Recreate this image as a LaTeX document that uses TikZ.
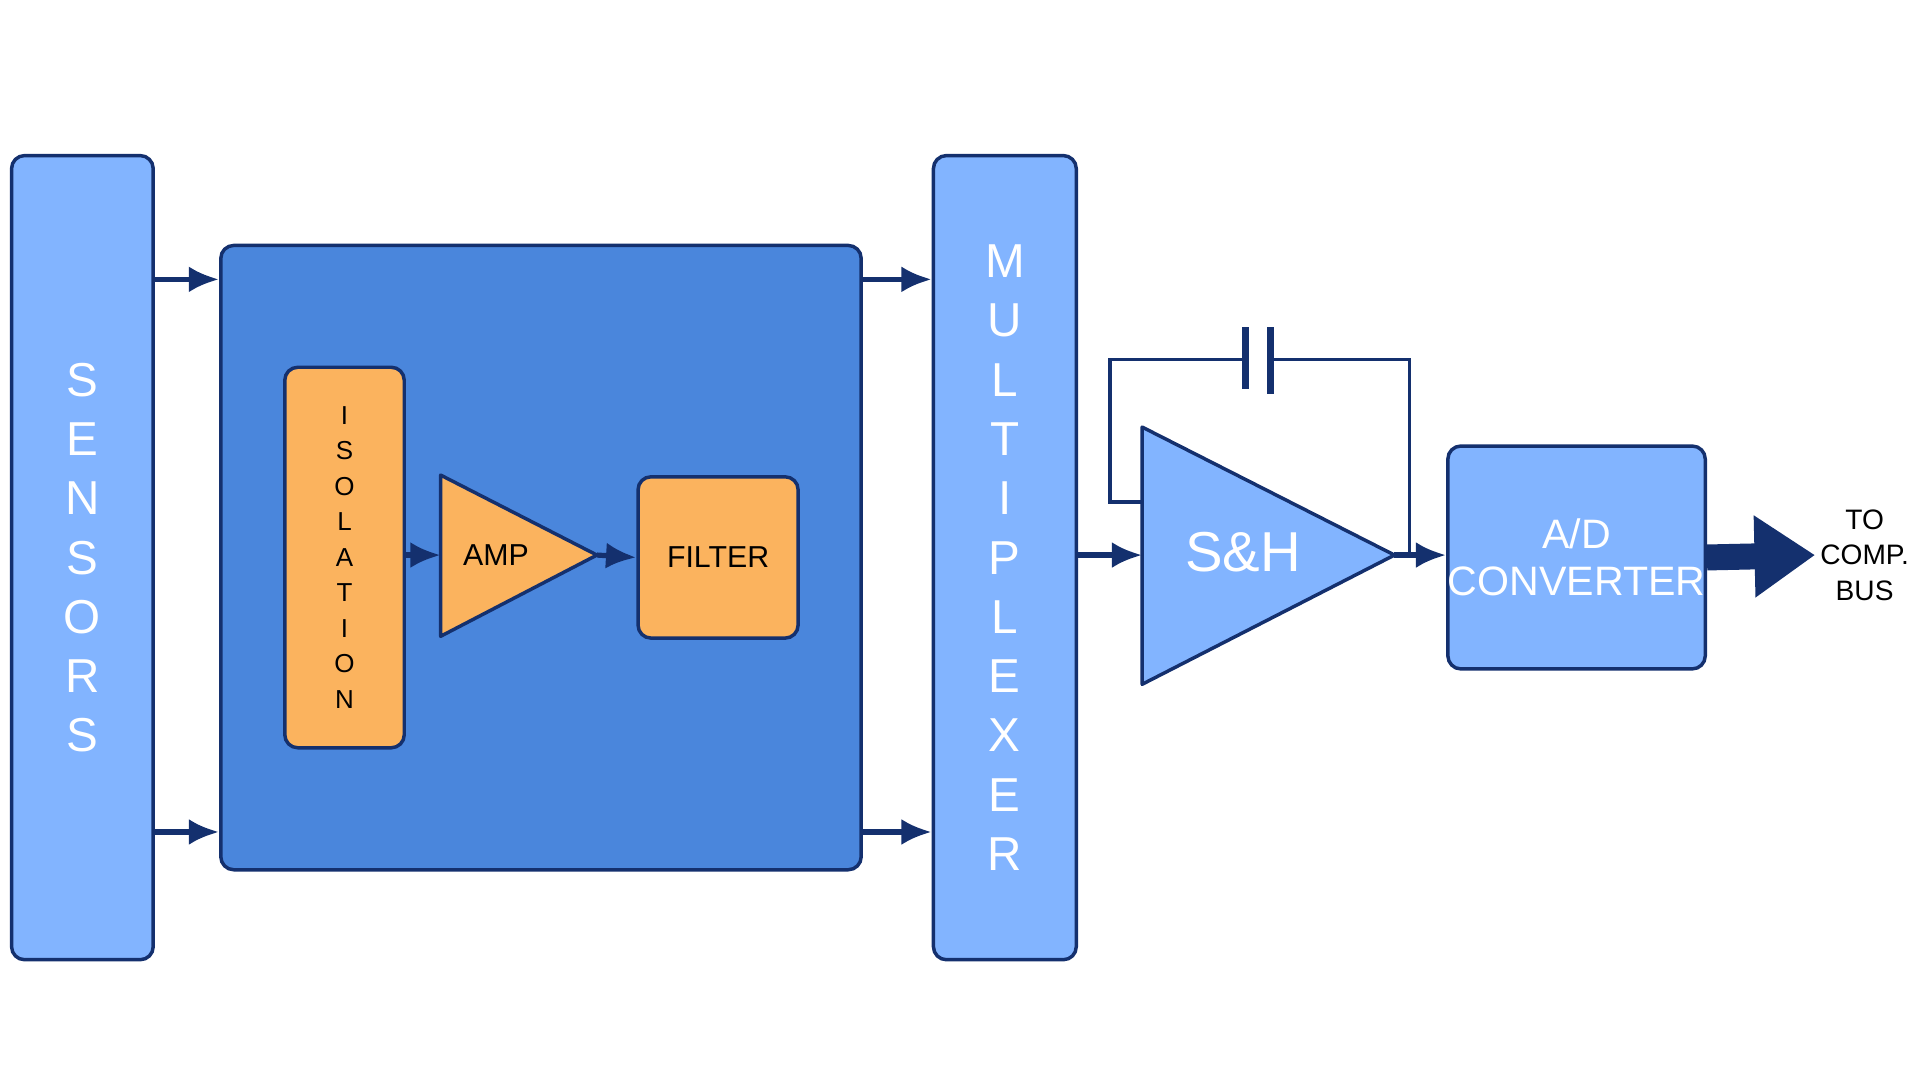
\documentclass[tikz,border=0pt]{standalone}
\usepackage{fontspec}
\setmainfont{Liberation Sans}
\usetikzlibrary{arrows.meta,positioning}
\definecolor{lblue}{HTML}{82B4FF}
\definecolor{mblue}{HTML}{4A86DC}
\definecolor{orng}{HTML}{FBB35E}
\definecolor{navy}{HTML}{14306E}
\tikzstyle{block}=[draw=navy,thick,rounded corners=3pt,inner sep=0pt]
\tikzstyle{flow}=[draw=navy,very thick,-{Latex[length=7pt,width=6pt]}]
\begin{document}
\begin{tikzpicture}[x=0.01cm,y=-0.01cm]
\useasboundingbox (0,0) rectangle (1560,877);
% outer blocks
\node[block,fill=lblue,minimum width=1.15cm,minimum height=6.53cm,anchor=north west] (sens) at (8,125) {};
\node[text=white,align=center,font=\fontsize{11}{13.7}\selectfont] at (sens) {S\\E\\N\\S\\O\\R\\S};
\node[block,fill=mblue,minimum width=5.2cm,minimum height=5.07cm,anchor=north west] (proc) at (178,198) {};
\node[block,fill=lblue,minimum width=1.16cm,minimum height=6.53cm,anchor=north west] (mux) at (757,125) {};
\node[text=white,align=center,font=\fontsize{11}{13.7}\selectfont] at (mux) {M\\U\\L\\T\\I\\P\\L\\E\\X\\E\\R};
% inner chain
\node[block,fill=orng,minimum width=0.97cm,minimum height=3.09cm,anchor=north west] (iso) at (230,297) {};
\node[align=center,font=\fontsize{6}{8.2}\selectfont] at (iso) {I\\S\\O\\L\\A\\T\\I\\O\\N};
\coordinate (ampin) at (358,451);
\coordinate (ampout) at (485,451);
\draw[navy,thick,fill=orng,line join=round] (358,386) -- (ampout) -- (358,517) -- cycle;
\node[font=\fontsize{7}{8}\selectfont] at (403,451) {AMP};
\node[block,fill=orng,minimum width=1.3cm,minimum height=1.31cm,anchor=north west,font=\fontsize{7}{8}\selectfont] (filt) at (517,386) {FILTER};
% sample and hold
\coordinate (shin) at (928,451);
\coordinate (shout) at (1133,451);
\draw[navy,thick,fill=lblue,line join=round] (928,347) -- (shout) -- (928,556) -- cycle;
\node[text=white,font=\fontsize{13}{15}\selectfont] at (1010,449) {S\&H};
\draw[navy,thick] (928,408) -- (902,408) -- (902,292) -- (1012,292);
\draw[navy,thick] (1032,292) -- (1145,292) -- (1145,451);
\draw[navy,line width=1.6pt] (1012,266) -- (1012,316) (1032,266) -- (1032,320);
\node[block,fill=lblue,minimum width=2.09cm,minimum height=1.81cm,anchor=north west] (adc) at (1175,361) {};
\node[text=white,align=center,font=\fontsize{9.5}{11}\selectfont] at (adc) {A/D\\CONVERTER};
\node[align=center,font=\fontsize{6.5}{8.2}\selectfont,inner sep=1pt] (bus) at (1515,451) {TO\\COMP.\\BUS};
% connectors
\draw[flow] (sens.east|-0,227) -- (proc.west|-0,227);
\draw[flow] (sens.east|-0,676) -- (proc.west|-0,676);
\draw[flow] (proc.east|-0,227) -- (mux.west|-0,227);
\draw[flow] (proc.east|-0,676) -- (mux.west|-0,676);
\draw[flow] (iso.east|-ampin) -- (ampin);
\draw[flow] (ampout) -- (filt.west);
\draw[flow] (mux.east|-shin) -- (shin);
\draw[flow] (shout) -- (adc.west|-shout);
\draw[navy,line width=6pt,-{Triangle[length=14pt,width=18pt]}] (adc.east) -- (bus.west);
\end{tikzpicture}
\end{document}
